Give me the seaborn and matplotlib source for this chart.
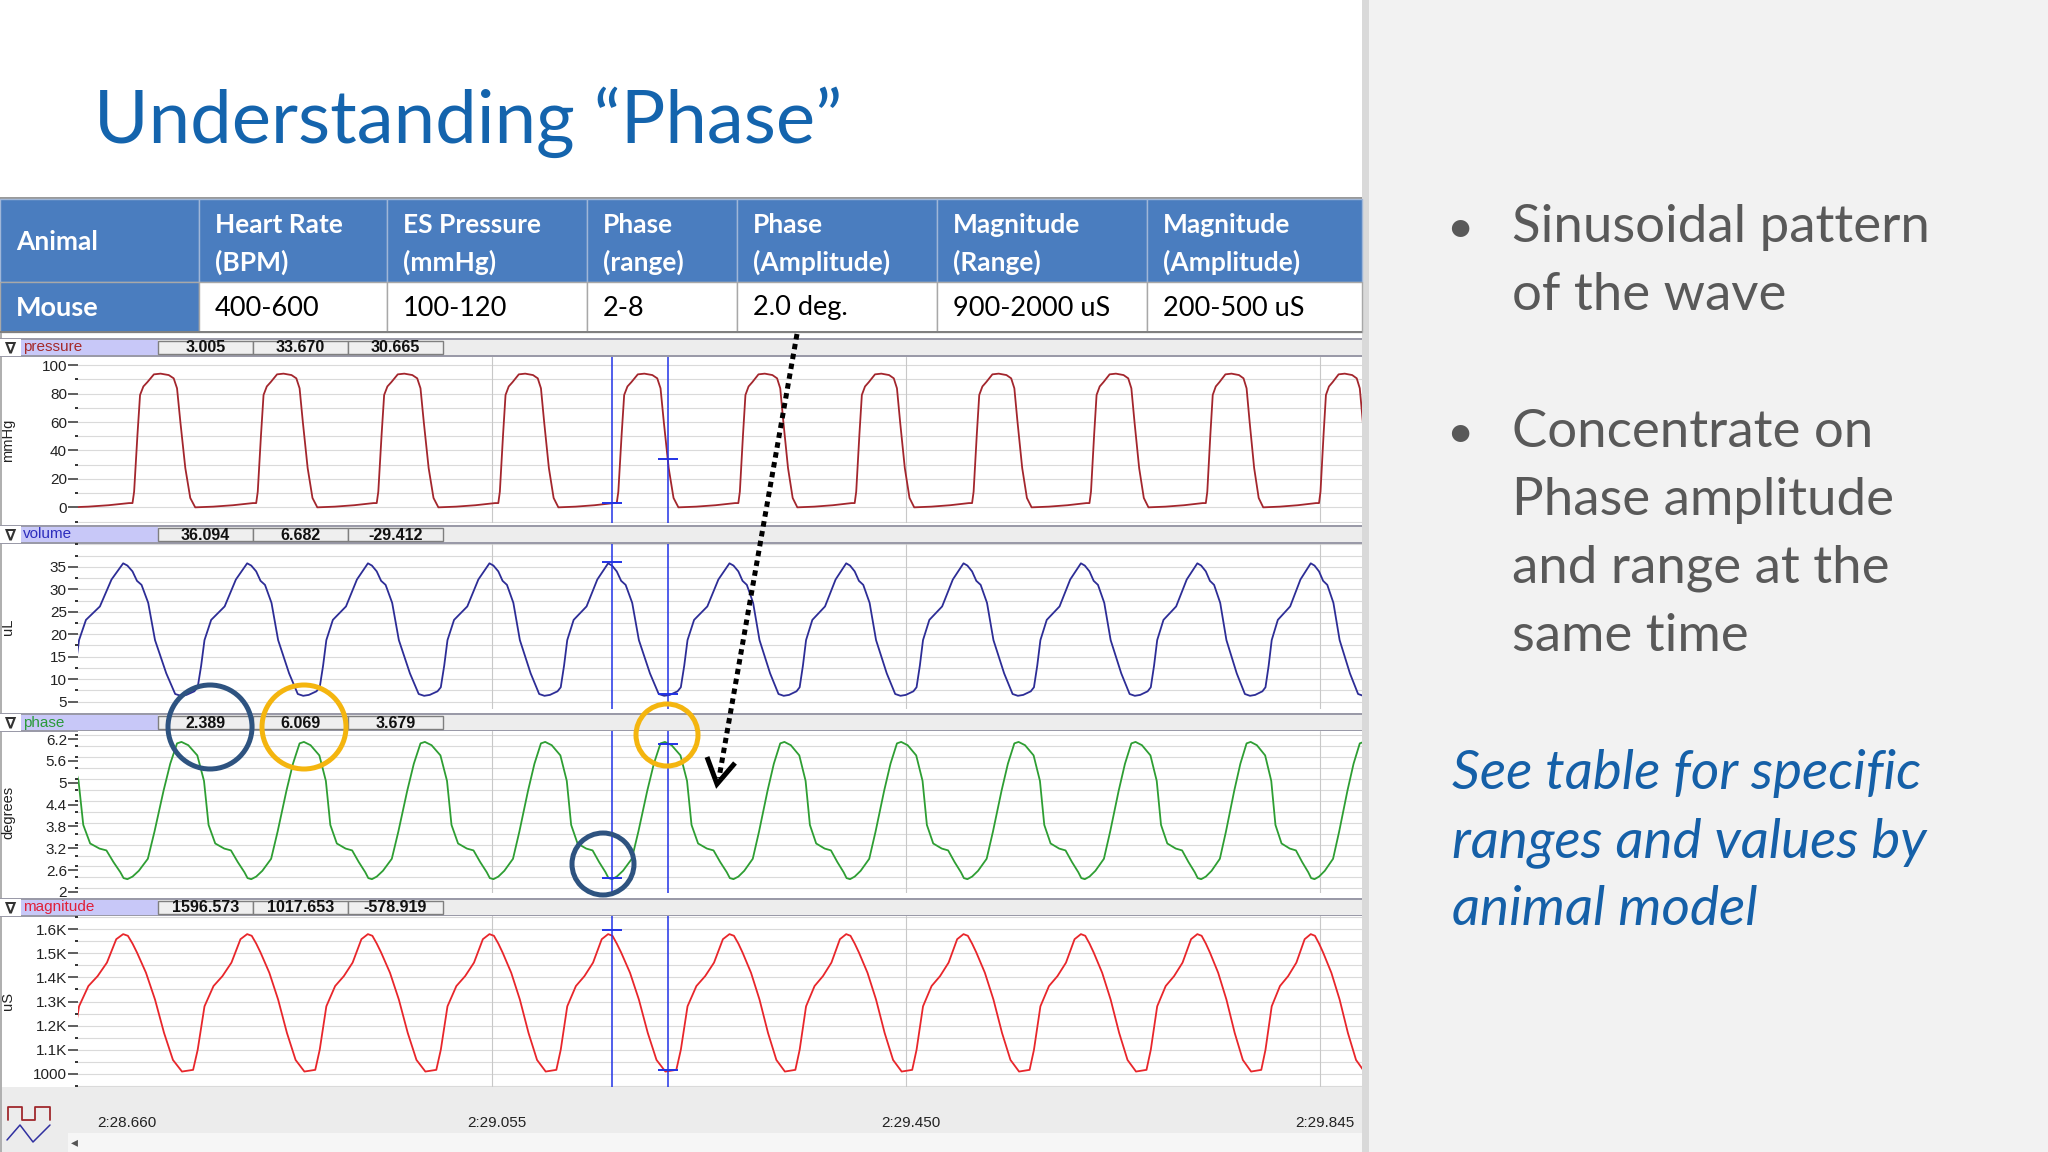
import numpy as np
import pandas as pd
import matplotlib.pyplot as plt
import seaborn as sns
from matplotlib.patches import Rectangle, Circle
from matplotlib.transforms import blended_transform_factory

# ---- slide text ----
title = "Understanding \u201cPhase\u201d"
bullets = [["Sinusoidal pattern", "of the wave"],
           ["Concentrate on", "Phase amplitude", "and range at the", "same time"]]
note = ["See table for specific", "ranges and values by", "animal model"]

# ---- reference table ----
table_head = ["Animal", "Heart Rate\n(BPM)", "ES Pressure\n(mmHg)", "Phase\n(range)",
              "Phase\n(Amplitude)", "Magnitude\n(Range)", "Magnitude\n(Amplitude)"]
table_mouse = ["Mouse", "400-600", "100-120", "2-8", "2.0 deg.", "900-2000 uS", "200-500 uS"]

# ---- recording (seconds after 2:28.660) ----
t_end = 1.225
time_ticks = [0.0, 0.395, 0.790, 1.185]
time_labels = ["2:28.660", "2:29.055", "2:29.450", "2:29.845"]
beat_onsets = [-0.070, 0.052, 0.170, 0.285, 0.401, 0.514, 0.630, 0.741, 0.853, 0.965, 1.076, 1.184]
cursors = [0.509, 0.563]

# one cardiac cycle per channel (cycle fraction, value)
pressure_frac = [0.0, 0.013, 0.04, 0.061, 0.088, 0.12, 0.173, 0.227, 0.293, 0.333, 0.36,
                 0.387, 0.427, 0.467, 0.507, 0.653, 0.813, 0.973]
pressure_mmHg = [3.0, 11, 51, 79, 85, 88, 93.5, 94, 93, 90.7, 83.7, 60, 27.6, 6.6, 0.0, 0.5, 1.5, 3.0]

volume_frac = [0.0, 0.036, 0.073, 0.127, 0.182, 0.273, 0.345, 0.39, 0.436, 0.5, 0.527, 0.555,
               0.582, 0.636, 0.745, 0.836, 0.927, 0.96]
volume_uL = [34.0, 31.9, 31.0, 27.0, 18.7, 11.3, 6.7, 6.3, 6.5, 7.3, 8.2, 13.0, 18.7, 23.2,
             26.2, 32.2, 35.8, 35.3]

phase_frac = [0.0, 0.051, 0.124, 0.178, 0.251, 0.305, 0.36, 0.396, 0.451, 0.524, 0.578,
              0.615, 0.669, 0.742, 0.796, 0.851, 0.905, 0.93, 0.96]
phase_deg = [2.42, 2.58, 2.91, 3.66, 4.78, 5.52, 6.08, 6.12, 6.03, 5.75, 5.05, 3.84, 3.33,
             3.19, 3.14, 2.82, 2.54, 2.38, 2.35]

mag_frac = [0.0, 0.036, 0.109, 0.182, 0.255, 0.327, 0.4, 0.49, 0.527, 0.582, 0.655, 0.727,
            0.8, 0.873, 0.927, 0.964]
mag_uS = [1540, 1503, 1419, 1308, 1170, 1058, 1010, 1017, 1100, 1280, 1364, 1405, 1461,
          1558, 1579, 1572]

# cursor readouts shown in the channel bars (cursor 1, cursor 2, difference)
pressure_read = [3.005, 33.670, 30.665]
volume_read = [36.094, 6.682, -29.412]
phase_read = [2.389, 6.069, 3.679]
mag_read = [1596.573, 1017.653, -578.919]

pressure_ticks = [0, 20, 40, 60, 80, 100]
volume_ticks = [5, 10, 15, 20, 25, 30, 35]
phase_ticks = [2.0, 2.6, 3.2, 3.8, 4.4, 5.0, 5.6, 6.2]
phase_ticklabels = ["2", "2.6", "3.2", "3.8", "4.4", "5", "5.6", "6.2"]
mag_ticks = [1000, 1100, 1200, 1300, 1400, 1500, 1600]
mag_ticklabels = ["1000", "1.1K", "1.2K", "1.3K", "1.4K", "1.5K", "1.6K"]


def build_trace(frac, values):
    ts, vs = [], []
    for i, t0 in enumerate(beat_onsets):
        if i + 1 < len(beat_onsets):
            period = beat_onsets[i + 1] - t0
        else:
            period = t0 - beat_onsets[i - 1]
        for f, v in zip(frac, values):
            ts.append(t0 + f * period)
            vs.append(v)
    return pd.DataFrame({"t": ts, "v": vs})


sns.set_theme(style="white")
plt.rcParams["font.family"] = ["Lato", "DejaVu Sans"]

W, H = 2048, 1152
fig = plt.figure(figsize=(20.48, 11.52), dpi=100)
fig.patch.set_facecolor("white")

bg = fig.add_axes([0, 0, 1, 1])
bg.set_xlim(0, W)
bg.set_ylim(H, 0)
bg.axis("off")

# right panel
bg.add_patch(Rectangle((1362, 0), 7, H, color="#d9d9d9", lw=0))
bg.add_patch(Rectangle((1369, 0), W - 1369, H, color="#f2f2f2", lw=0))

bg.text(94, 143, title, fontsize=53.5, color="#1464ad", va="baseline", ha="left")

# bullets
base = [242, 447]
for lines, y0 in zip(bullets, base):
    bg.text(1446, y0, "\u2022", fontsize=34, color="#595959", va="baseline", ha="left")
    for k, line in enumerate(lines):
        bg.text(1512, y0 + 68 * k, line, fontsize=38, color="#595959", va="baseline")
for k, line in enumerate(note):
    bg.text(1452, 789 + 68 * k, line, fontsize=39.5, color="#1560a8", style="italic",
            va="baseline")

# table
col_edges = [0, 199, 387, 587, 737, 937, 1147, 1362]
blue = "#4a7dbf"
bg.add_patch(Rectangle((0, 197), 1362, 2, color="#9a9a9a", lw=0))
for i in range(len(table_head)):
    x0, x1 = col_edges[i], col_edges[i + 1]
    bg.add_patch(Rectangle((x0, 199), x1 - x0, 83, facecolor=blue, edgecolor="#9fb6d8", lw=1))
    bg.add_patch(Rectangle((x0, 282), x1 - x0, 50, facecolor=blue if i == 0 else "white",
                           edgecolor="#a8a8a8", lw=1))
    parts = table_head[i].split("\n")
    if len(parts) == 1:
        bg.text(x0 + 16, 242, parts[0], fontsize=19, fontweight="bold", color="white", va="center")
    else:
        bg.text(x0 + 16, 225, parts[0], fontsize=19, fontweight="bold", color="white", va="center")
        bg.text(x0 + 16, 262, parts[1], fontsize=19, fontweight="bold", color="white", va="center")
    bg.text(x0 + 16, 308, table_mouse[i], fontsize=19.5, va="center",
            fontweight="bold" if i == 0 else "normal", color="white" if i == 0 else "black")

# chart window chrome
bg.add_patch(Rectangle((0, 331), 1362, 2, color="#808080", lw=0))
bg.add_patch(Rectangle((0, 1087), 1362, 65, color="#ececec", lw=0))
bg.add_patch(Rectangle((68, 1133), 1294, 19, color="#f6f6f6", lw=0))
bg.add_patch(Rectangle((0, 333), 2, 819, color="#b0b0b0", lw=0))
bg.text(74, 1142, "\u25c2", fontsize=10, color="#555555", ha="center", va="center",
        family="DejaVu Sans")
bg.plot([8, 8, 22, 22, 35, 35, 50, 50], [1120, 1107, 1107, 1120, 1120, 1107, 1107, 1120],
        color="#a0282d", lw=1.3)
bg.plot([7, 20, 33, 50], [1140, 1125, 1142, 1125], color="#3030a0", lw=1.1)

channels = [
    dict(name="pressure", unit="mmHg", color="#a3262d", label_color="#a52a2a",
         df=build_trace(pressure_frac, pressure_mmHg), read=pressure_read,
         head=339, top=357, bottom=523, ylim=(-11, 105.7),
         ticks=pressure_ticks, labels=[str(v) for v in pressure_ticks], step=10),
    dict(name="volume", unit="uL", color="#2d2d96", label_color="#2d2dbd",
         df=build_trace(volume_frac, volume_uL), read=volume_read,
         head=526, top=544, bottom=709, ylim=(3.36, 40.1),
         ticks=volume_ticks, labels=[str(v) for v in volume_ticks], step=2.5),
    dict(name="phase", unit="degrees", color="#2e9e33", label_color="#2a9a3a",
         df=build_trace(phase_frac, phase_deg), read=phase_read,
         head=714, top=731, bottom=893, ylim=(1.97, 6.42),
         ticks=phase_ticks, labels=phase_ticklabels, step=0.3),
    dict(name="magnitude", unit="uS", color="#e8262b", label_color="#e0203a",
         df=build_trace(mag_frac, mag_uS), read=mag_read,
         head=899, top=916, bottom=1087, ylim=(946, 1654),
         ticks=mag_ticks, labels=mag_ticklabels, step=50),
]

cursor_blue = "#2233e6"
left_px, right_px = 78, 1362
for k, ch in enumerate(channels):
    hy, hh = ch["head"], 17
    bg.add_patch(Rectangle((0, hy), 1362, hh, facecolor="#ededed", lw=0))
    bg.add_patch(Rectangle((0, hy - 1), 1362, 2, color="#9a9aa8", lw=0))
    bg.add_patch(Rectangle((0, hy + hh - 1), 1362, 2, color="#9a9aa8", lw=0))
    bg.add_patch(Rectangle((0, hy), 21, hh, color="white", lw=0))
    bg.add_patch(Rectangle((21, hy + 1), 137, hh - 2, color="#c8c8f8", lw=0))
    bg.text(11, hy + hh / 2 + 1, "\u2207", fontsize=11.5, fontweight="bold", color="#333333",
            ha="center", va="center", family="DejaVu Sans")
    bg.text(23, hy + hh / 2, ch["name"], fontsize=11, color=ch["label_color"], va="center",
            family="Liberation Sans")
    for j, val in enumerate(ch["read"]):
        bx = 158 + 95 * j
        bg.add_patch(Rectangle((bx, hy + 2), 95, hh - 4, facecolor="#efefef",
                               edgecolor="#7f7f7f", lw=1))
        bg.text(bx + 47.5, hy + hh / 2 + 0.5, f"{val:.3f}", fontsize=11.5, fontweight="bold",
                color="#111111", ha="center", va="center", family="Liberation Sans")

    ax = fig.add_axes([left_px / W, 1 - ch["bottom"] / H,
                       (right_px - left_px) / W, (ch["bottom"] - ch["top"]) / H])
    ax.set_facecolor("white")
    lo, hi = ch["ylim"]
    minor = np.arange(np.ceil(lo / ch["step"]) * ch["step"], hi, ch["step"])
    for g in minor:
        ax.axhline(g, color="#dadada", lw=0.8, zorder=0)
    for tv in time_ticks[1:]:
        ax.axvline(tv, color="#c8c8c8", lw=0.8, zorder=0)
    sns.lineplot(data=ch["df"], x="t", y="v", ax=ax, color=ch["color"], lw=1.3,
                 estimator=None, sort=False, legend=False)
    for c in cursors:
        ax.axvline(c, color=cursor_blue, lw=1.1, zorder=3)
    ax.plot(cursors, ch["read"][:2], ls="none", marker="_", ms=15, mew=1.4,
            color=cursor_blue, zorder=4)
    ax.set_xlim(0, t_end)
    ax.set_ylim(lo, hi)
    ax.set_yticks(ch["ticks"])
    ax.set_yticklabels(ch["labels"], family="Liberation Sans", fontsize=11, color="#222222")
    ax.set_yticks([m for m in minor if not np.any(np.isclose(m, ch["ticks"]))], minor=True)
    ax.tick_params(axis="y", which="major", left=True, length=7, width=1.1, color="#333333", pad=1)
    ax.tick_params(axis="y", which="minor", left=True, length=2, width=1.4, color="#333333")
    ax.set_xticks([])
    for s in ax.spines.values():
        s.set_visible(False)
    ax.set_xlabel("")
    ax.set_ylabel(ch["unit"], family="Liberation Sans", fontsize=10.5, color="#222222")
    ax.yaxis.set_label_coords((15 - left_px) / (right_px - left_px), 0.5)

    if ch["name"] == "magnitude":
        tr = blended_transform_factory(ax.transData, ax.transAxes)
        for tv, lab in zip(time_ticks, time_labels):
            x = tv + 0.047 if tv == 0 else tv + 0.005
            ax.text(x, -0.212, lab, transform=tr, ha="center", va="center", fontsize=11,
                    family="Liberation Sans", color="#222222")

# annotations on top
top = fig.add_axes([0, 0, 1, 1], zorder=10)
top.set_xlim(0, W)
top.set_ylim(H, 0)
top.axis("off")
top.patch.set_alpha(0)
navy, gold = "#2e5380", "#f4b50f"
for (cx, cy, r, col) in [(210, 727, 42, navy), (304, 727, 42, gold),
                         (667, 735, 31, gold), (603, 864, 31, navy)]:
    top.add_patch(Circle((cx, cy), r, fill=False, edgecolor=col, lw=3.6))
top.plot([797, 719], [334, 778], color="black", lw=3.6, ls=(0, (1.1, 0.9)),
         dash_capstyle="butt")
top.plot([707, 717, 735], [757, 784, 763], color="black", lw=3.6, solid_capstyle="butt",
         solid_joinstyle="miter")

fig.savefig("out.png", dpi=100)
